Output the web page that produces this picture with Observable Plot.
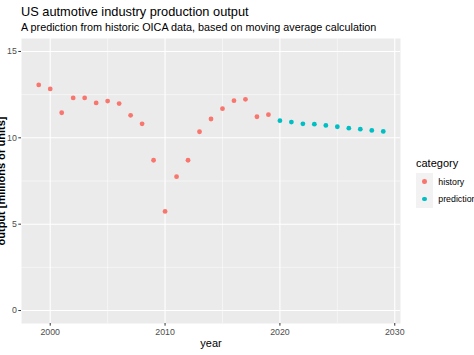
<!DOCTYPE html>
<html>
<head>
<meta charset="utf-8">
<script src="https://cdn.jsdelivr.net/npm/d3@7"></script>
<script src="https://cdn.jsdelivr.net/npm/@observablehq/plot@0.6"></script>
<style>
  html, body { margin: 0; padding: 0; background: #fff; overflow: hidden; }
  #wrap { position: relative; width: 474px; height: 355px; font-family: "Liberation Sans", Arial, sans-serif; }
  #title { position: absolute; left: 21px; top: 4px; font-size: 12.8px; line-height: 15px; color: #000; white-space: nowrap; }
  #subtitle { position: absolute; left: 21px; top: 21px; font-size: 10.8px; line-height: 13px; color: #000; white-space: nowrap; }
  #legend { position: absolute; left: 416px; top: 157px; color: #000; white-space: nowrap; }
  #legend .ttl { font-size: 11px; line-height: 13px; margin-bottom: 3px; }
  #legend .row { display: flex; align-items: center; height: 17.3px; font-size: 8.8px; }
  #legend .key { width: 17.3px; height: 17.3px; background: #F2F2F2; position: relative; margin-right: 5px; }
  #legend .dot { position: absolute; left: 6.3px; top: 6.3px; width: 4.7px; height: 4.7px; border-radius: 50%; }
  svg { position: absolute; left: 0; top: 0; }
</style>
</head>
<body>
<div id="wrap">
  <div id="title"></div>
  <div id="subtitle"></div>
  <div id="legend"></div>
</div>
<script>
const titleText = "US autmotive industry production output";
const subtitleText = "A prediction from historic OICA data, based on moving average calculation";
const xLabel = "year";
const yLabel = "output [millions of units]";
const legendTitle = "category";
const categories = ["history", "prediction"];
const colors = ["#F8766D", "#00BFC4"];

const historyYears = [1999,2000,2001,2002,2003,2004,2005,2006,2007,2008,2009,2010,2011,2012,2013,2014,2015,2016,2017,2018,2019];
const historyValues = [13.06,12.83,11.45,12.31,12.31,12.02,12.13,11.98,11.30,10.81,8.70,5.74,7.75,8.70,10.35,11.09,11.69,12.15,12.23,11.22,11.34];
const predictionYears = [2020,2021,2022,2023,2024,2025,2026,2027,2028,2029];
const predictionValues = [10.99,10.91,10.81,10.79,10.72,10.64,10.56,10.50,10.43,10.37];

const xTicks = [2000, 2010, 2020, 2030];
const xMinor = [2005, 2015, 2025];
const yTicks = [0, 5, 10, 15];
const yMinor = [2.5, 7.5, 12.5];

const data = [
  ...historyYears.map((y, i) => ({year: y, value: historyValues[i], category: categories[0]})),
  ...predictionYears.map((y, i) => ({year: y, value: predictionValues[i], category: categories[1]}))
];

document.getElementById("title").textContent = titleText;
document.getElementById("subtitle").textContent = subtitleText;
const leg = document.getElementById("legend");
const lt = document.createElement("div"); lt.className = "ttl"; lt.textContent = legendTitle; leg.appendChild(lt);
categories.forEach((c, i) => {
  const row = document.createElement("div"); row.className = "row";
  const key = document.createElement("div"); key.className = "key";
  const dot = document.createElement("div"); dot.className = "dot"; dot.style.background = colors[i];
  key.appendChild(dot); row.appendChild(key);
  const t = document.createElement("span"); t.textContent = c; row.appendChild(t);
  leg.appendChild(row);
});

const chart = Plot.plot({
  width: 474,
  height: 355,
  marginTop: 38,
  marginLeft: 21,
  marginRight: 74,
  marginBottom: 32,
  style: {fontFamily: "Liberation Sans, Arial, sans-serif", background: "transparent", overflow: "visible"},
  x: {domain: [1997.5, 2030.5]},
  y: {domain: [-0.75, 15.75]},
  color: {domain: categories, range: colors},
  marks: [
    Plot.frame({fill: "#EBEBEB", stroke: null}),
    Plot.ruleX(xMinor, {stroke: "#fff", strokeWidth: 0.5}),
    Plot.ruleY(yMinor, {stroke: "#fff", strokeWidth: 0.5}),
    Plot.ruleX(xTicks, {stroke: "#fff", strokeWidth: 1.1}),
    Plot.ruleY(yTicks, {stroke: "#fff", strokeWidth: 1.1}),
    Plot.axisX({ticks: xTicks, tickFormat: d => String(d), tickSize: 2.7, tickPadding: 3, stroke: "#333", strokeWidth: 1, color: "#4D4D4D", fontSize: 8.8, label: null}),
    Plot.axisY({ticks: yTicks, tickSize: 2.7, tickPadding: 2, stroke: "#333", strokeWidth: 1, color: "#4D4D4D", fontSize: 8.8, label: null}),
    Plot.text([xLabel], {frameAnchor: "bottom", dy: 23, text: d => d, fontSize: 11, fill: "#000"}),
    Plot.text([yLabel], {frameAnchor: "left", dx: -20, rotate: -90, textAnchor: "middle", text: d => d, fontSize: 11, fill: "#000", fontWeight: "bold"}),
    Plot.dot(data, {x: "year", y: "value", fill: "category", r: 2.4, stroke: null})
  ]
});
document.getElementById("wrap").prepend(chart);
</script>
</body>
</html>
